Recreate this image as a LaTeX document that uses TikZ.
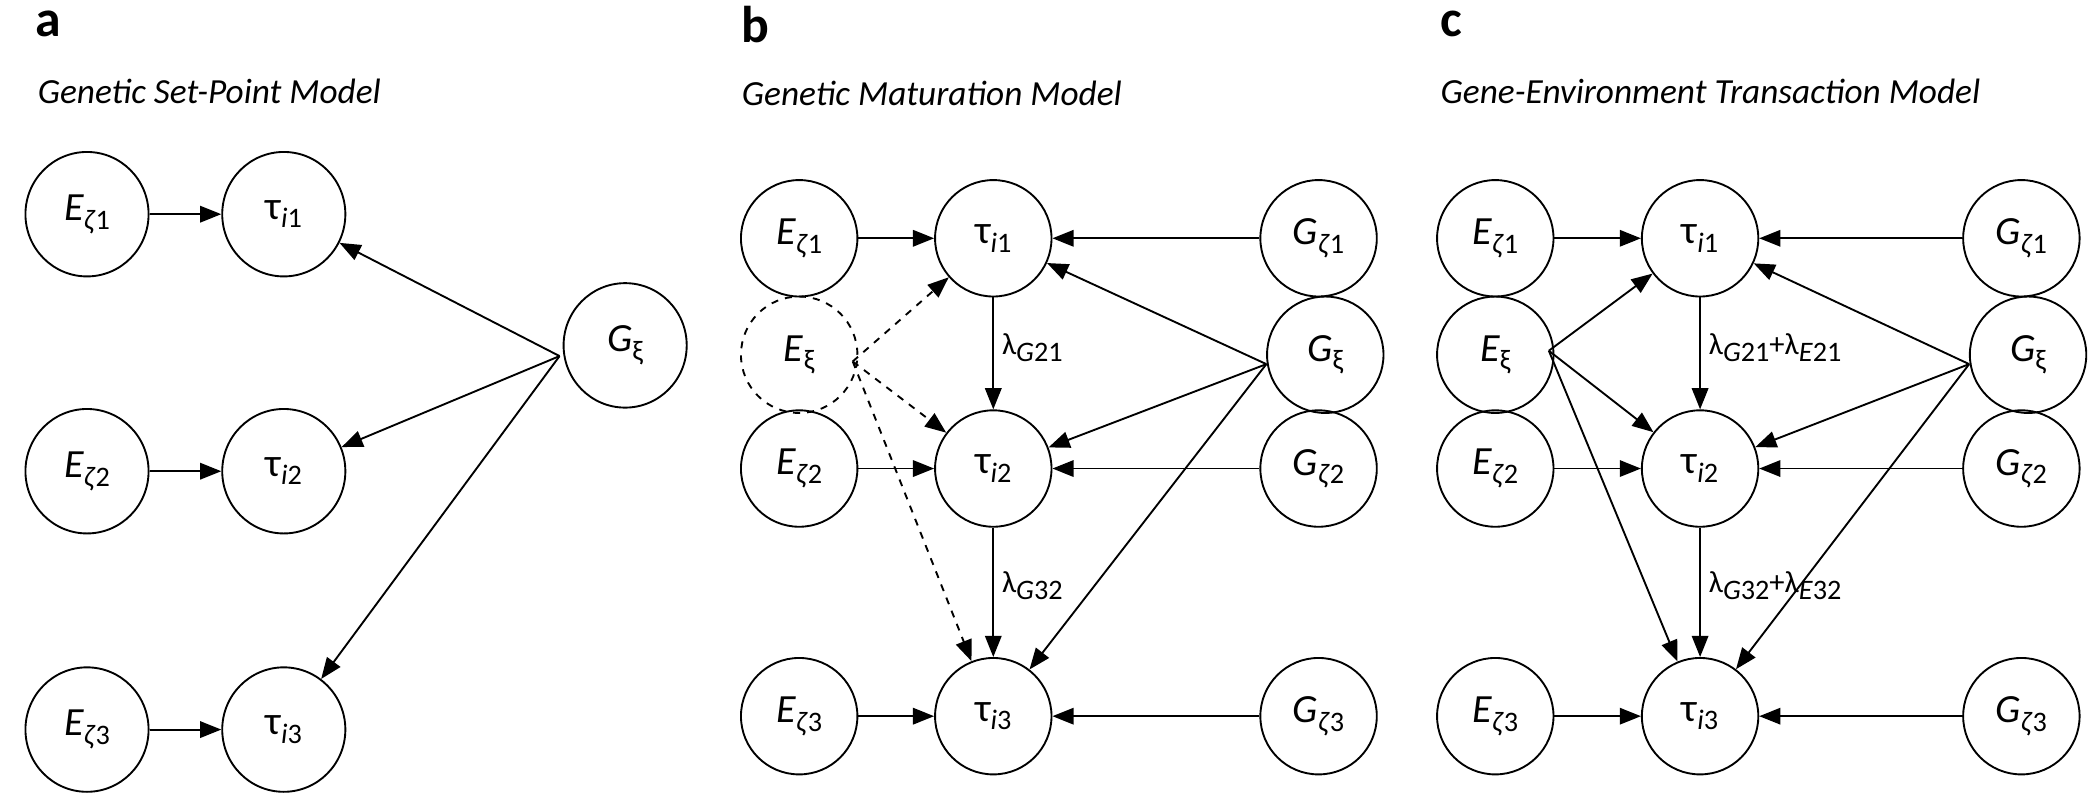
\documentclass[tikz,border=0pt]{standalone}
\usepackage{fontspec}
\setmainfont{Carlito}
\usetikzlibrary{arrows.meta,shapes.geometric}
\newcommand\sbs[1]{\raisebox{-0.45ex}{\fontsize{12}{12}\selectfont #1}}
\newcommand\vE[1]{\textit{E}\sbs{\textit{ζ}#1}}
\newcommand\vG[1]{\textit{G}\sbs{\textit{ζ}#1}}
\newcommand\vT[1]{τ\sbs{\textit{i}#1}}
\newcommand\lam[2]{λ\sbs{\textit{#1}#2}}
\begin{document}
\begin{tikzpicture}[x=0.02cm,y=-0.02cm,
  v/.style={draw,line width=0.8pt,ellipse,minimum width=1.84cm,minimum height=1.86cm,inner sep=0pt,font=\fontsize{17}{17}\selectfont},
  w/.style={v,minimum width=1.74cm,minimum height=1.74cm},
  a/.style={line width=0.8pt,-{Triangle[length=9pt,width=7pt]}},
  d/.style={a,dashed},
  ttl/.style={anchor=west,font=\itshape\fontsize{15}{15}\selectfont},
  lt/.style={anchor=west,font=\bfseries\fontsize{22}{22}\selectfont},
  lab/.style={anchor=west,font=\fontsize{13}{13}\selectfont}]
\useasboundingbox (0,0) rectangle (1568,599);
% panel a
\node[lt] (la) at (20,18) {a};
\node[ttl] (ta) at (22,68) {Genetic Set-Point Model};
\node[v] (aE1) at (65,160) {\vE1};
\node[v] (aT1) at (212,160) {\vT1};
\node[v] (aE2) at (65,352) {\vE2};
\node[v] (aT2) at (212,352) {\vT2};
\node[v] (aE3) at (65,545) {\vE3};
\node[v] (aT3) at (212,545) {\vT3};
\node[v] (aG) at (467,258) {\textit{G}\sbs{ξ}};
\coordinate (aGo) at (418,266);
\draw[a] (aE1) -- (aT1);
\draw[a] (aE2) -- (aT2);
\draw[a] (aE3) -- (aT3);
\draw[a] (aGo) -- (aT1);
\draw[a] (aGo) -- (aT2);
\draw[a] (aGo) -- (aT3);
% panel b
\node[lt] (lb) at (548,18) {b};
\node[ttl] (tb) at (548,70) {Genetic Maturation Model};
\node[w] (bE1) at (597,178) {\vE1};
\node[w] (bT1) at (742,178) {\vT1};
\node[w] (bG1) at (985,178) {\vG1};
\node[w,dashed] (bEx) at (597,265) {\textit{E}\sbs{ξ}};
\node[w] (bGx) at (990,265) {\textit{G}\sbs{ξ}};
\node[w] (bE2) at (597,350) {\vE2};
\node[w] (bT2) at (742,350) {\vT2};
\node[w] (bG2) at (985,350) {\vG2};
\node[w] (bE3) at (597,535) {\vE3};
\node[w] (bT3) at (742,535) {\vT3};
\node[w] (bG3) at (985,535) {\vG3};
\coordinate (bEo) at (637,270);
\coordinate (bGo) at (946,272);
\draw[a] (bE1) -- (bT1);
\draw[a] (bE2) -- (bT2);
\draw[a] (bE3) -- (bT3);
\draw[a] (bG1) -- (bT1);
\draw[a] (bG2) -- (bT2);
\draw[a] (bG3) -- (bT3);
\draw[a] (bGo) -- (bT1);
\draw[a] (bGo) -- (bT2);
\draw[a] (bGo) -- (bT3);
\draw[d] (bEo) -- (bT1);
\draw[d] (bEo) -- (bT2);
\draw[d] (bEo) -- (bT3);
\draw[a] (bT1) -- node[lab,pos=0.45]{\lam{G}{21}} (bT2);
\draw[a] (bT2) -- node[lab,pos=0.45]{\lam{G}{32}} (bT3);
% panel c
\node[lt] (lc) at (1070,18) {c};
\node[ttl] (tc) at (1070,68) {Gene-Environment Transaction Model};
\node[w] (cE1) at (1117,178) {\vE1};
\node[w] (cT1) at (1270,178) {\vT1};
\node[w] (cG1) at (1510,178) {\vG1};
\node[w] (cEx) at (1117,265) {\textit{E}\sbs{ξ}};
\node[w] (cGx) at (1515,265) {\textit{G}\sbs{ξ}};
\node[w] (cE2) at (1117,350) {\vE2};
\node[w] (cT2) at (1270,350) {\vT2};
\node[w] (cG2) at (1510,350) {\vG2};
\node[w] (cE3) at (1117,535) {\vE3};
\node[w] (cT3) at (1270,535) {\vT3};
\node[w] (cG3) at (1510,535) {\vG3};
\coordinate (cEo) at (1157,262);
\coordinate (cGo) at (1471,272);
\draw[a] (cE1) -- (cT1);
\draw[a] (cE2) -- (cT2);
\draw[a] (cE3) -- (cT3);
\draw[a] (cG1) -- (cT1);
\draw[a] (cG2) -- (cT2);
\draw[a] (cG3) -- (cT3);
\draw[a] (cGo) -- (cT1);
\draw[a] (cGo) -- (cT2);
\draw[a] (cGo) -- (cT3);
\draw[a] (cEo) -- (cT1);
\draw[a] (cEo) -- (cT2);
\draw[a] (cEo) -- (cT3);
\draw[a] (cT1) -- node[lab,pos=0.45]{\lam{G}{21}+\lam{E}{21}} (cT2);
\draw[a] (cT2) -- node[lab,pos=0.45]{\lam{G}{32}+\lam{E}{32}} (cT3);
\end{tikzpicture}
\end{document}
